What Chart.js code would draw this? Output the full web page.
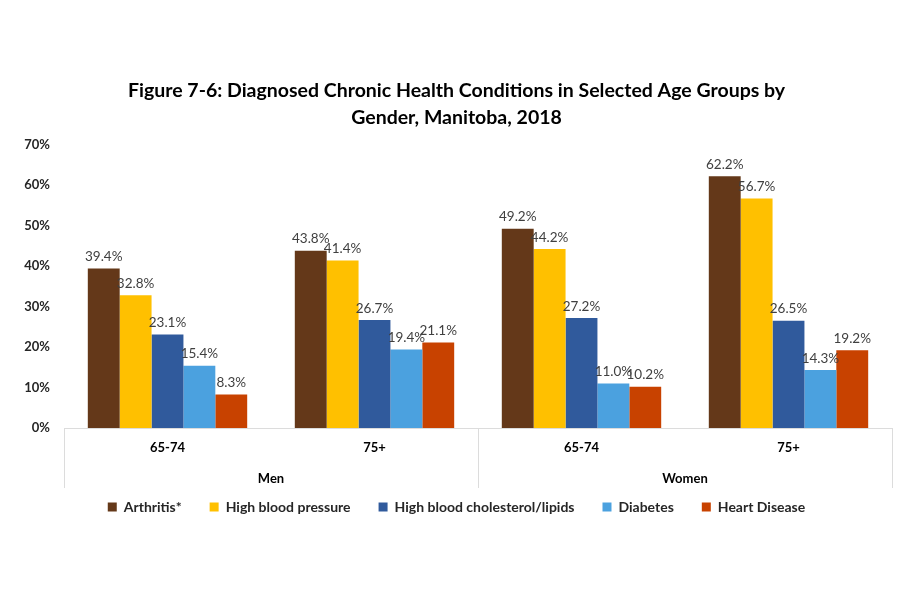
<!DOCTYPE html>
<html>
<head>
<meta charset="utf-8">
<title>Figure 7-6</title>
<script src="https://cdn.jsdelivr.net/npm/chart.js@4/dist/chart.umd.min.js"></script>
<style>
  html, body { margin: 0; padding: 0; background: #fff; }
  #wrap { width: 900px; height: 600px; }
</style>
</head>
<body>
<div id="wrap"><canvas id="chart" width="900" height="600"></canvas></div>
<script>
// ---- Data ----
const ageGroups = ["65-74", "75+", "65-74", "75+"];
const genders = ["Men", "Women"];
const arthritis = [39.4, 43.8, 49.2, 62.2];
const highBloodPressure = [32.8, 41.4, 44.2, 56.7];
const cholesterol = [23.1, 26.7, 27.2, 26.5];
const diabetes = [15.4, 19.4, 11.0, 14.3];
const heartDisease = [8.3, 21.1, 10.2, 19.2];
const yTicks = [0, 10, 20, 30, 40, 50, 60, 70];

const FONT = "Lato, 'Open Sans', sans-serif";
const COLORS = {
    arthritis: "#643819",
    pressure: "#FFC000",
    cholesterol: "#305A9C",
    diabetes: "#4BA1DF",
    heart: "#C84200",
};

// value labels above every bar
const valueLabels = {
    id: "valueLabels",
    afterDatasetsDraw(chart) {
        const ctx = chart.ctx;
        ctx.save();
        ctx.font = "13.5px " + FONT;
        ctx.fillStyle = "#404040";
        ctx.textAlign = "center";
        ctx.textBaseline = "bottom";
        chart.data.datasets.forEach((ds, i) => {
            chart.getDatasetMeta(i).data.forEach((bar, j) => {
                ctx.fillText(ds.data[j].toFixed(1) + "%", bar.x, bar.y - 5);
            });
        });
        ctx.restore();
    },
};

// second level of the category axis: Men | Women, with table lines
const groupTable = {
    id: "groupTable",
    afterDraw(chart) {
        const ctx = chart.ctx;
        const area = chart.chartArea;
        const x = chart.scales.x;
        const per = ageGroups.length / genders.length;
        const bounds = [area.left];
        genders.forEach((g, k) => {
            const last = (k + 1) * per - 1;
            bounds.push(
                last + 1 < ageGroups.length
                    ? (x.getPixelForValue(last) + x.getPixelForValue(last + 1)) / 2
                    : area.right,
            );
        });
        const lineEnd = area.bottom + 60;
        ctx.save();
        ctx.strokeStyle = "#dcdcdc";
        ctx.lineWidth = 1;
        ctx.beginPath();
        bounds.forEach((px) => {
            ctx.moveTo(Math.round(px) + 0.5, area.bottom);
            ctx.lineTo(Math.round(px) + 0.5, lineEnd);
        });
        ctx.stroke();
        ctx.font = "bold 13px " + FONT;
        ctx.fillStyle = "#000";
        ctx.textAlign = "center";
        ctx.textBaseline = "middle";
        genders.forEach((g, k) => {
            ctx.fillText(g, (bounds[k] + bounds[k + 1]) / 2, area.bottom + 51);
        });
        ctx.restore();
    },
};

function makeSet(label, data, color) {
    return {
        label,
        data,
        backgroundColor: color,
        borderWidth: 0,
        categoryPercentage: 0.77,
        barPercentage: 1.0,
    };
}

new Chart(document.getElementById("chart"), {
    type: "bar",
    data: {
        labels: ageGroups,
        datasets: [
            makeSet("Arthritis*", arthritis, COLORS.arthritis),
            makeSet("High blood pressure", highBloodPressure, COLORS.pressure),
            makeSet("High blood cholesterol/lipids", cholesterol, COLORS.cholesterol),
            makeSet("Diabetes", diabetes, COLORS.diabetes),
            makeSet("Heart Disease", heartDisease, COLORS.heart),
        ],
    },
    options: {
        responsive: false,
        animation: false,
        layout: { padding: { left: 21, right: 8, top: 0, bottom: 76 } },
        plugins: {
            title: {
                display: true,
                text: [
                    "Figure 7-6: Diagnosed Chronic Health Conditions in Selected Age Groups by",
                    "Gender, Manitoba, 2018",
                ],
                color: "#000",
                font: { family: FONT, size: 19.5, weight: "bold", lineHeight: 1.35 },
                padding: { top: 78, bottom: 14 },
            },
            legend: {
                position: "bottom",
                labels: {
                    boxWidth: 9,
                    boxHeight: 9,
                    padding: 28,
                    color: "#262626",
                    font: { family: FONT, size: 14, weight: "bold" },
                },
            },
            tooltip: { enabled: false },
        },
        scales: {
            x: {
                grid: { display: false },
                border: { display: true, color: "#dcdcdc" },
                ticks: {
                    color: "#000",
                    padding: 4,
                    font: { family: FONT, size: 13, weight: "bold" },
                },
                afterFit: (s) => { s.height = 44; },
            },
            y: {
                min: 0,
                max: 70,
                grid: { display: false },
                border: { display: false },
                afterBuildTicks: (s) => { s.ticks = yTicks.map((v) => ({ value: v })); },
                ticks: {
                    color: "#262626",
                    padding: 6,
                    font: { family: FONT, size: 13, weight: "bold" },
                    callback: (v) => v + "%",
                },
                afterFit: (s) => { s.width = 43; },
            },
        },
    },
    plugins: [valueLabels, groupTable],
});
</script>
</body>
</html>
